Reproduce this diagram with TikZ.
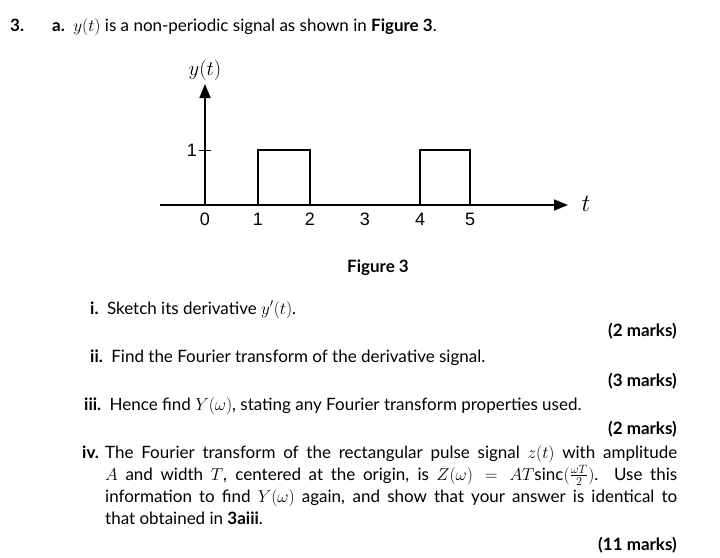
\documentclass[tikz,border=0pt]{standalone}
\usepackage{fontspec}
\setmainfont{Lato}
\usetikzlibrary{arrows.meta}
\begin{document}
\begin{tikzpicture}[x=1pt,y=-1pt,
  txt/.style={anchor=base west,inner sep=0pt,font=\fontsize{17}{20}\selectfont},
  mk/.style={anchor=base east,inner sep=0pt,font=\fontsize{17}{20}\selectfont\bfseries},
  lbl/.style={inner sep=0pt,font=\fontsize{18}{18}\selectfont\fontspec{Liberation Sans}}]
\useasboundingbox (0,0) rectangle (720,557);
\node[txt] (n3) at (10,31) {\textbf{3.}};
\node[txt] (na) at (52,31) {\textbf{a.}\enspace $y(t)$ is a non-periodic signal as shown in \textbf{Figure 3}.};
% axes
\coordinate (o) at (205,205);
\coordinate (yt) at (205,84);
\coordinate (xl) at (160,205);
\coordinate (xt) at (568,205);
\draw[line width=1.6pt,-{Triangle[length=14pt,width=11pt]}] (xl) -- (xt);
\draw[line width=1.6pt,-{Triangle[length=14pt,width=11pt]}] (o) -- (yt);
\node[inner sep=0pt,font=\fontsize{20}{20}\selectfont] (ylab) at (205,70) {$y(t)$};
\node[inner sep=0pt,font=\fontsize{24}{24}\selectfont] (tlab) at (586,204) {$t$};
\draw[line width=1pt] (199,150) -- (211,150);
\node[lbl] (one) at (192,150) {1};
\draw[line width=2.6pt] (205,205) -- (258,205) -- (258,150) -- (310,150) -- (310,205) -- (420,205) -- (420,150) -- (470,150) -- (470,205) -- (520,205);
\foreach \x/\t in {205/0,258/1,310/2,365/3,420/4,470/5}
  \node[lbl] (tk\t) at (\x,219) {\t};
\node[inner sep=0pt,font=\fontsize{17}{20}\selectfont\bfseries] (fig) at (378,268) {Figure 3};
\node[txt] (ni) at (90,314) {\textbf{i.}\enspace Sketch its derivative $y'(t)$.};
\node[mk] (m1) at (677,336) {(2 marks)};
\node[txt] (nii) at (90,362) {\textbf{ii.}\enspace Find the Fourier transform of the derivative signal.};
\node[mk] (m2) at (677,386) {(3 marks)};
\node[txt] (niii) at (84,410) {\textbf{iii.}\enspace Hence find $Y(\omega)$, stating any Fourier transform properties used.};
\node[mk] (m3) at (677,434) {(2 marks)};
\node[txt] (niv) at (82,458) {\textbf{iv.}};
\node[txt] (l1) at (105,458) {\makebox[572pt][s]{The Fourier transform of the rectangular pulse signal $z(t)$ with amplitude}};
\node[txt] (l2) at (105,480) {\makebox[572pt][s]{$A$ and width $T$, centered at the origin, is $Z(\omega)=AT\mathrm{sinc}(\frac{\omega T}{2})$. Use this}};
\node[txt] (l3) at (105,502) {\makebox[572pt][s]{information to find $Y(\omega)$ again, and show that your answer is identical to}};
\node[txt] (l4) at (105,524) {that obtained in \textbf{3aiii}.};
\node[mk] (m4) at (677,550) {(11 marks)};
\end{tikzpicture}
\end{document}
